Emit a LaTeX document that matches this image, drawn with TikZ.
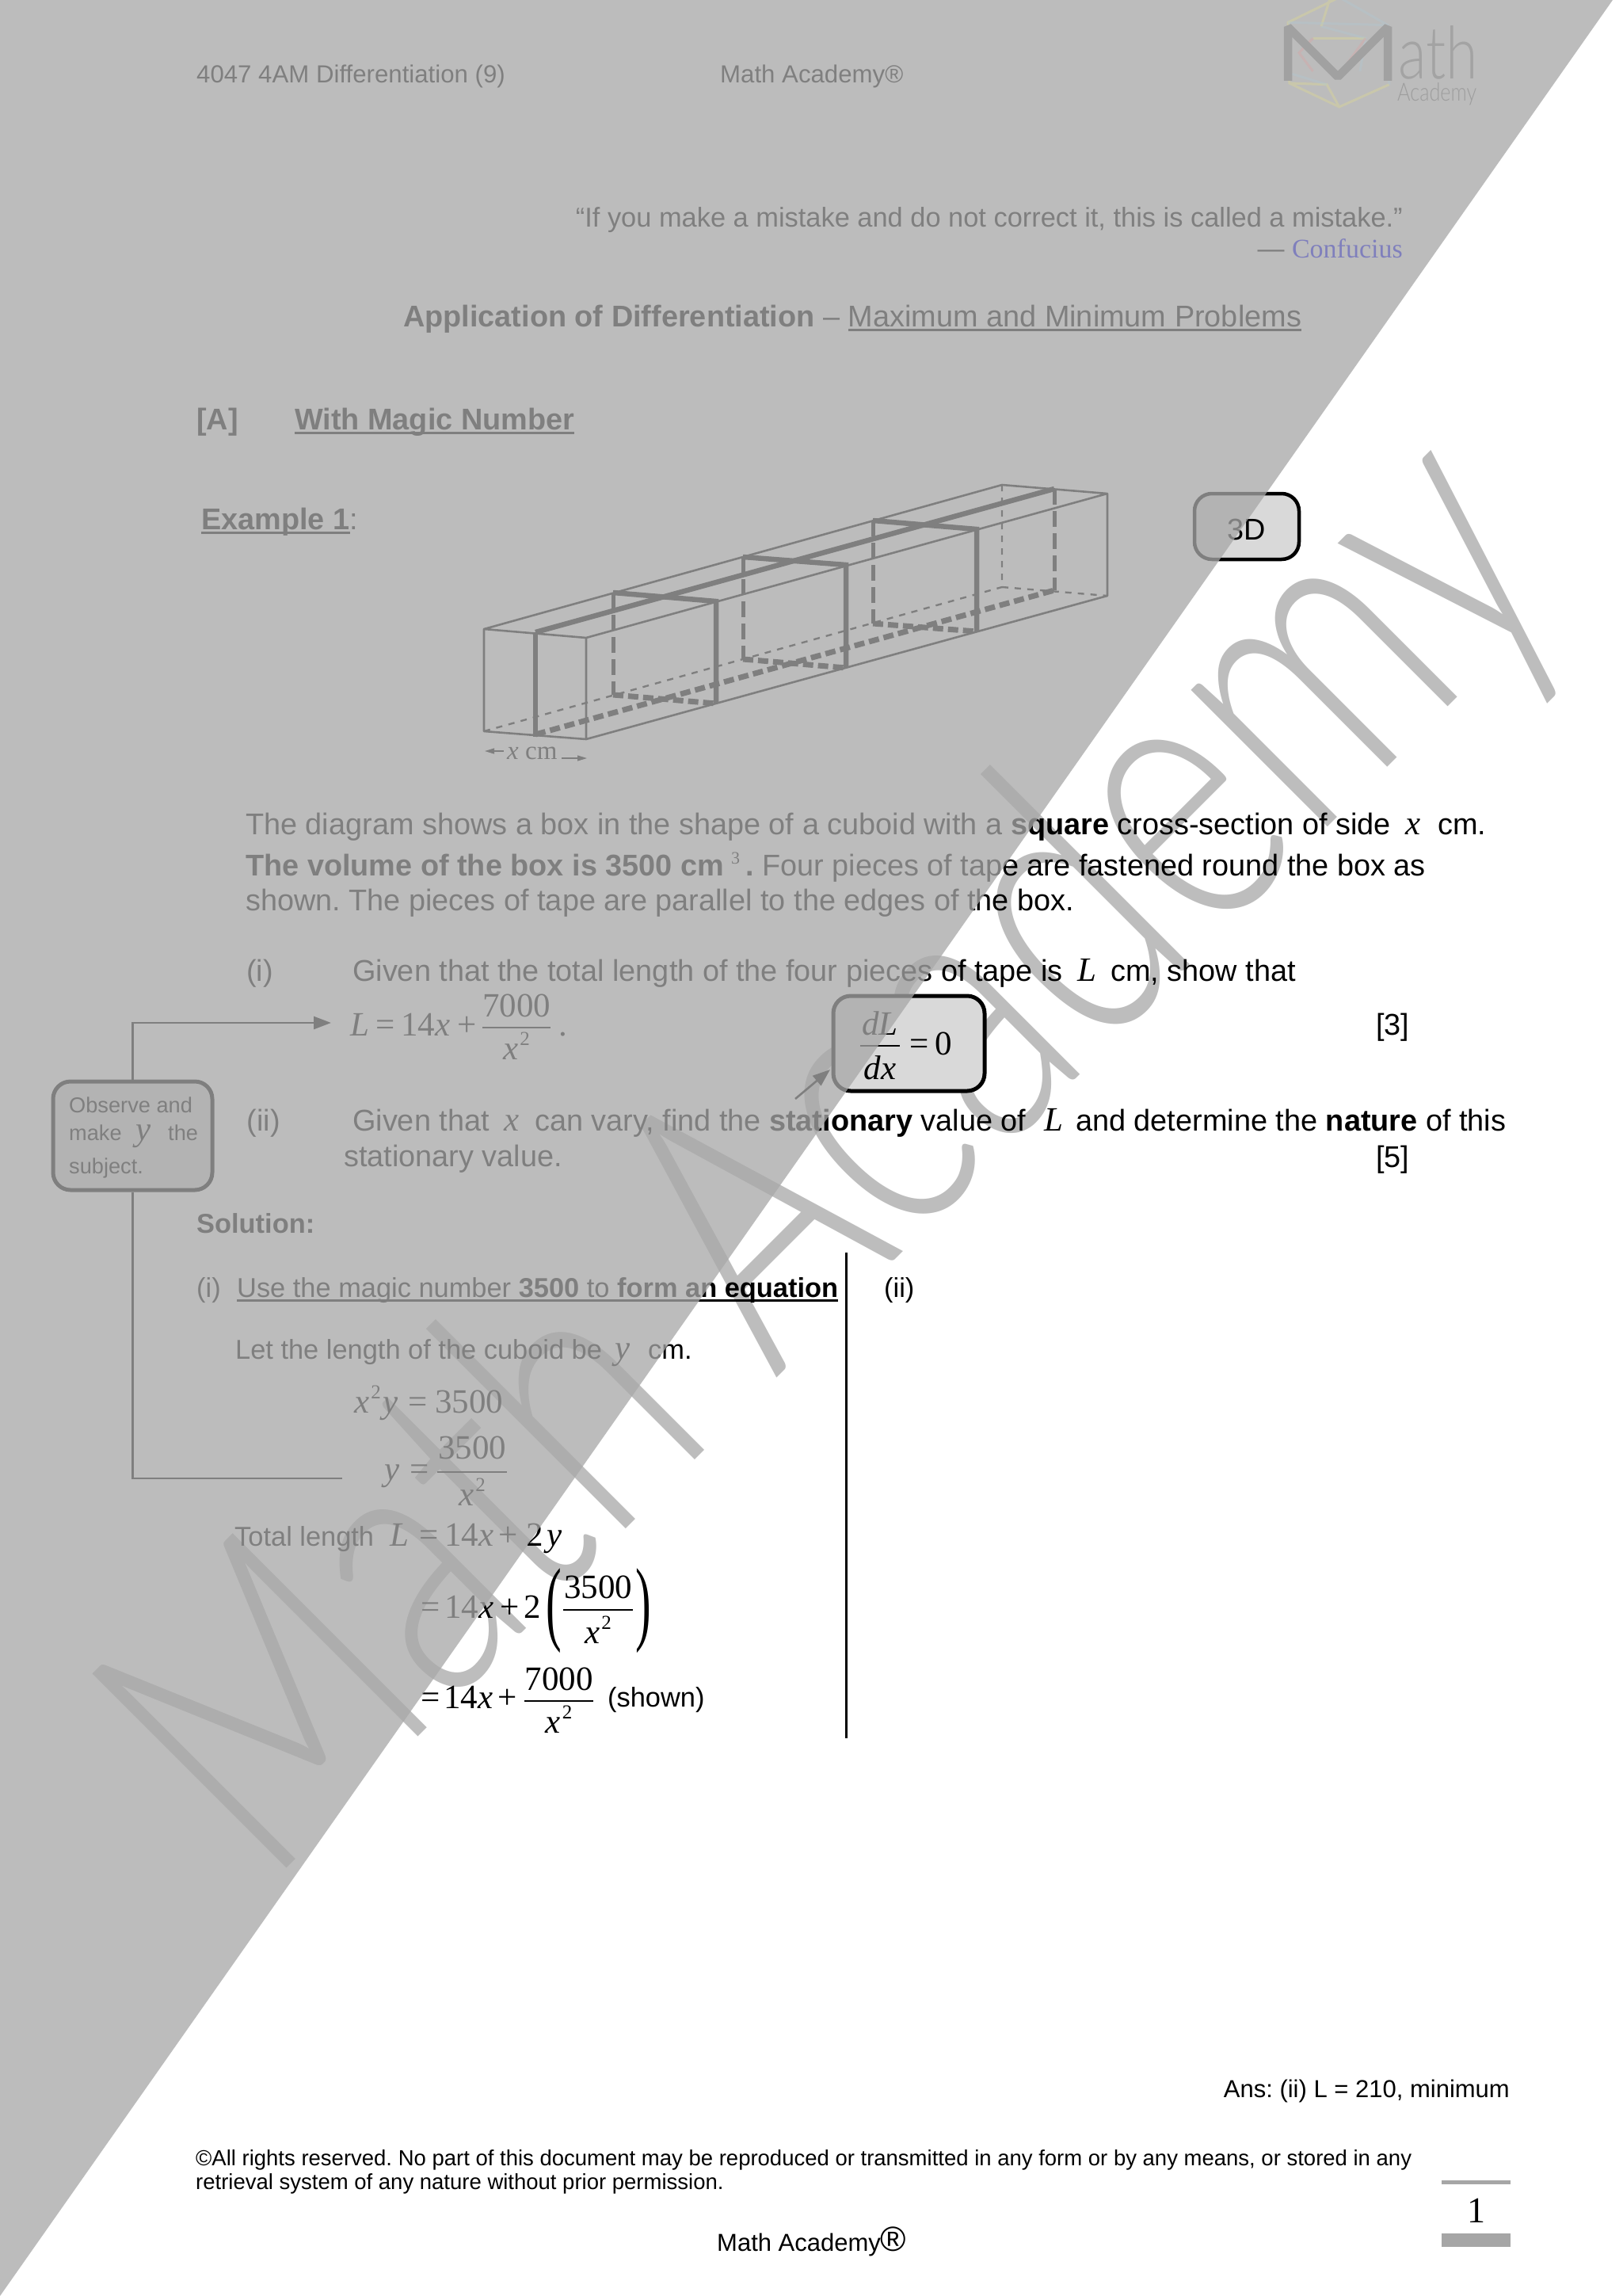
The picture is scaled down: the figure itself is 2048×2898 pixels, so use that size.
\documentclass[tikz,border=0pt]{standalone}
\usepackage{fontspec}
\usetikzlibrary{arrows.meta}
\setmainfont{Liberation Sans}
\newfontfamily\tms{Liberation Serif}
\newfontfamily\wmfont[FakeStretch=0.732]{Lato Light}
\newfontfamily\logofont[FakeStretch=0.8]{Lato Light}
\newcommand\fs[1]{\fontsize{#1}{#1}\selectfont}
\newcommand\ix[1]{{\tms\itshape #1}}
\newcommand\xsq{\ix{x}\raisebox{18pt}{\tms\fs{25}\kern2pt 2}}
\newcommand\ulx[2][2.6pt]{\leavevmode\setbox0\hbox{#2}\rlap{\raisebox{-6pt}{\rule{\wd0}{#1}}}\box0}
\AtBeginDocument{\frenchspacing}
\definecolor{boxfill}{HTML}{D9D9D9}
\definecolor{barcol}{HTML}{A6A6A6}
\tikzset{
  txt/.style={anchor=base west,inner sep=0pt,font=\fs{37.86}},
  txtr/.style={anchor=base east,inner sep=0pt,font=\fs{37.86}},
  eq/.style={anchor=base west,inner sep=0pt,font=\fs{43}\tms},
  eqc/.style={anchor=base,inner sep=0pt,font=\fs{43}\tms},
  rulel/.style={line width=2pt},
  thin box/.style={line width=2.6pt},
  tape/.style={line width=6.5pt},
  tape dash/.style={line width=7pt,dash pattern=on 13pt off 6pt},
  tape vdash/.style={line width=5pt,dash pattern=on 20pt off 8pt},
  hidden/.style={line width=2.4pt,dash pattern=on 8pt off 8pt},
  callout/.style={draw,rounded corners=22pt,fill=boxfill,inner sep=0pt},
  conn/.style={line width=2.6pt},
  tip/.style={-{Triangle[length=22pt,width=16pt]}},
  smtip/.style={-{Triangle[length=12pt,width=7pt]},line width=1.2pt},
  ico/.style={line width=3pt,opacity=.4}
}
\begin{document}
\begin{tikzpicture}[x=1pt,y=-1pt]
\useasboundingbox (0,0) rectangle (2048,2898);
\fill[white] (0,0) rectangle (2048,2898);

% watermark, under everything else
\node[anchor=base west,inner sep=0pt,rotate=45,font=\fs{490}\wmfont,text=black!26] (wm) at (335,2385) {Math Academy};

% header
\node[txt,font=\fs{31.2}] (hd1) at (248,105) {4047 4AM Differentiation (9)};
\node[txt,font=\fs{31.2}] (hd2) at (909,105) {Math Academy®};
\node[txtr,font=\fs{34.4}] (quote) at (1771,286) {“If you make a mistake and do not correct it, this is called a mistake.”};
\node[txtr,font=\fs{34}] (conf) at (1771,325) {— {\tms\color{blue}Confucius}};
\node[txt] (title) at (509,412) {\textbf{Application of Differentiation} – \ulx{Maximum and Minimum Problems}};
\node[txt,font=\fs{37.86}\bfseries] (secA) at (248,542) {[A]};
\node[txt,font=\fs{37.86}\bfseries] (secB) at (372,542) {\ulx[3pt]{With Magic Number}};
\node[txt] (ex) at (254,668) {\ulx[3pt]{\textbf{Example 1}}:};

% cuboid
\coordinate (a) at (611,794); \coordinate (b) at (740,805);
\coordinate (c) at (740,933); \coordinate (d) at (611,923);
\coordinate (e) at (1265,612); \coordinate (f) at (1398,623);
\coordinate (g) at (1398,752); \coordinate (h) at (1265,741);
\draw[thin box,line join=round] (a)--(b)--(c)--(d)--cycle (a)--(e)--(f)--(b) (f)--(g)--(c);
\draw[hidden] (d)--(h) (h)--(g) (e)--(h);
\draw[tape] (676,798)--(1331,617);
\draw[tape] (676,798)--(676,930);
\draw[tape dash] (676,927)--(1331,745);
\draw[tape vdash] (1331,617)--(1331,745);
\draw[tape] (774,748)--(904,759)--(904,888);
\draw[tape vdash] (774,748)--(774,877);
\draw[tape dash] (774,877)--(904,888);
\draw[tape] (938,703)--(1068,713)--(1068,843);
\draw[tape vdash] (938,703)--(938,832);
\draw[tape dash] (938,832)--(1068,843);
\draw[tape] (1102,657)--(1233,668)--(1233,797);
\draw[tape vdash] (1102,657)--(1102,787);
\draw[tape dash] (1102,787)--(1233,797);
\coordinate (xl) at (612,948); \coordinate (xls) at (636,948);
\coordinate (xr) at (741,957); \coordinate (xrs) at (709,957);
\draw[smtip] (xls)--(xl);
\draw[smtip] (xrs)--(xr);
\node[txt,font=\fs{33}\tms] (xcm) at (640,958) {\textit{x} cm};

\node[callout,line width=4.5pt,minimum width=132pt,minimum height=83pt] (threeD) at (1574,664.5) {};
\node[anchor=center,inner sep=0pt,font=\fs{37.86}] (threeDt) at (1574,668) {3D};

% question
\node[txt] at (310,1053) {The diagram shows a box in the shape of a cuboid with a \textbf{square} cross-section of side};
\node[eq] at (1774,1053) {\ix{x}};
\node[txt] at (1815,1053) {cm.};
\node[txt] (vol) at (310,1105) {\textbf{The volume of the box is 3500 cm}};
\node[eq,font=\fs{22}\tms] at (923,1090) {3};
\node[txt] at (941,1105) {\textbf{.} Four pieces of tape are fastened round the box as};
\node[txt] at (310,1149) {shown. The pieces of tape are parallel to the edges of the box.};
\node[txt] at (311,1238) {(i)};
\node[txt] at (445,1238) {Given that the total length of the four pieces of tape is};
\node[eq] at (1360,1238) {\ix{L}};
\node[txt] at (1402,1238) {cm, show that};

% L equation
\node[eq] (eqL) at (442,1307) {\ix{L}\kern8pt=\kern8pt14\ix{x}\kern9pt+};
\draw[rulel] (609,1297)--(695,1297);
\node[eqc] at (652,1283) {7000};
\node[eqc] at (652,1337) {\xsq};
\node[eq] at (705,1307) {.};
\node[txt] at (1737,1306) {[3]};

% dL box
\node[callout,line width=5pt,minimum width=191pt,minimum height=120pt] (dlbox) at (1147.5,1317) {};
\draw[rulel] (1086,1320)--(1136,1320);
\node[eqc] at (1111,1306) {\ix{dL}};
\node[eqc] at (1111,1362) {\ix{dx}};
\node[eq] at (1148,1331) {=\kern8pt0};
\coordinate (dlstart) at (1004,1387); \coordinate (dltip) at (1048,1350);
\draw[conn,tip] (dlstart)--(dltip);

% observe box
\node[callout,line width=5pt,minimum width=201pt,minimum height=137pt] (obs) at (167.5,1433.5) {};
\node[txt,font=\fs{27.2}] at (87,1404) {Observe and};
\node[txt,font=\fs{27.2}] at (87,1439) {make};
\node[eq] at (171,1439) {\ix{y}};
\node[txt,font=\fs{27.2}] at (212,1439) {the};
\node[txt,font=\fs{27.2}] at (87,1481) {subject.};
\coordinate (armtop) at (418,1291); \coordinate (armend) at (432,1866);
\draw[conn,tip] (obs.north) |- (armtop);
\draw[conn] (obs.south) |- (armend);

% part ii
\node[txt] at (311.5,1427) {(ii)};
\node[txt] at (445,1427) {Given that};
\node[eq] at (636,1427) {\ix{x}};
\node[txt] at (675,1427) {can vary, find the \textbf{stationary} value of};
\node[eq] at (1318,1427) {\ix{L}};
\node[txt] at (1358,1427) {and determine the \textbf{nature} of this};
\node[txt] at (434,1472) {stationary value.};
\node[txt] at (1737,1473) {[5]};

% solution
\node[txt,font=\fs{34.4}\bfseries] at (248,1556) {Solution:};
\node[txt,font=\fs{34.4}] at (248,1637) {(i)};
\node[txt,font=\fs{34.4}] (use) at (299,1637) {\ulx{Use the magic number \textbf{3500} to \textbf{form an equation}}};
\node[txt,font=\fs{34.4}] at (1116,1637) {(ii)};
\coordinate (vt) at (1068.4,1581); \coordinate (vb) at (1068.4,2194);
\draw[line width=3pt] (vt)--(vb);
\node[txt,font=\fs{34.4}] at (297,1715) {Let the length of the cuboid be};
\node[eq] at (776,1715) {\ix{y}};
\node[txt,font=\fs{34.4}] at (818,1715) {cm.};

\node[eq] at (447,1783) {\xsq\kern3pt\ix{y}\kern13pt=\kern9pt3500};
\node[eq] at (485,1868) {\ix{y}\kern13pt=};
\draw[rulel] (552,1858)--(640,1858);
\node[eqc] at (596,1841) {3500};
\node[eqc] at (596,1900) {\xsq};

\node[txt,font=\fs{34.4}] at (296,1951) {Total length};
\node[eq] at (492,1951) {\ix{L}};
\node[eq] at (529,1951) {=\kern8pt14\ix{x}\kern6pt+\kern11pt2\kern4pt\ix{y}};

\node[eq] at (531,2042) {=\kern6pt14\ix{x}\kern8pt+\kern6pt2};
\node[eq,font=\fs{118}\tms,xscale=.5] at (689,2061) {(};
\node[eq,font=\fs{118}\tms,xscale=.5] at (802,2061) {)};
\draw[rulel] (711,2032)--(799,2032);
\node[eqc] at (755,2017) {3500};
\node[eqc] at (755,2074) {\xsq};

\node[eq] at (531,2156) {=\kern5pt14\ix{x}\kern6pt+};
\draw[rulel] (662,2147)--(749,2147);
\node[eqc] at (705.5,2133) {7000};
\node[eqc] at (705.5,2187) {\xsq};
\node[txt,font=\fs{34.4}] at (767,2154) {(shown)};

% footer
\node[txtr,font=\fs{31}] at (1906,2647) {Ans: (ii) L = 210, minimum};
\node[txt,font=\fs{27.5}] at (247,2733) {©All rights reserved. No part of this document may be reproduced or transmitted in any form or by any means, or stored in any};
\node[txt,font=\fs{27.5}] at (247,2763) {retrieval system of any nature without prior permission.};
\node[txt,font=\fs{31}] at (905,2841) {Math Academy{\fs{44}®}};
\fill[barcol] (1820,2752) rectangle (1907,2756.5);
\fill[barcol] (1820,2819) rectangle (1907,2836);
\node[eqc,font=\fs{46}\tms] at (1864,2805) {1};

% grey diagonal overlay
\fill[black!34,opacity=.76] (0,0)--(2036,0)--(0,2898)--cycle;

% logo
\begin{scope}[x=.35pt,y=-.3333pt,shift={(4285.7,0)}]
\clip (300,0) rectangle (800,450);
\draw[ico,color=yellow!40!white!85!black] (545,-10)--(360,85)--(365,315)--(545,405)--(725,320) (480,100)--(510,0) (450,145)--(640,145) (365,315)--(500,320)--(545,405);
\draw[ico,color=cyan!20!white!80!black] (545,-10)--(720,95)--(725,320) (360,85)--(720,95) (480,100)--(640,145)--(620,270) (375,280)--(500,320);
\draw[ico,color=red!25!white!85!black] (450,145)--(400,200)--(450,270) (640,145)--(560,260);
\end{scope}
\draw[color=black!37,line width=10.5pt,line join=bevel] (1626,102)--(1626,34)--(1689,97)--(1752,34)--(1752,102);
\node[txt,font=\fs{92}\logofont,text=black!36] (lath) at (1765,100) {ath};
\node[txt,font=\fs{31.5}\logofont,text=black!38] (lac) at (1764,128) {Academy};
\end{tikzpicture}
\end{document}
